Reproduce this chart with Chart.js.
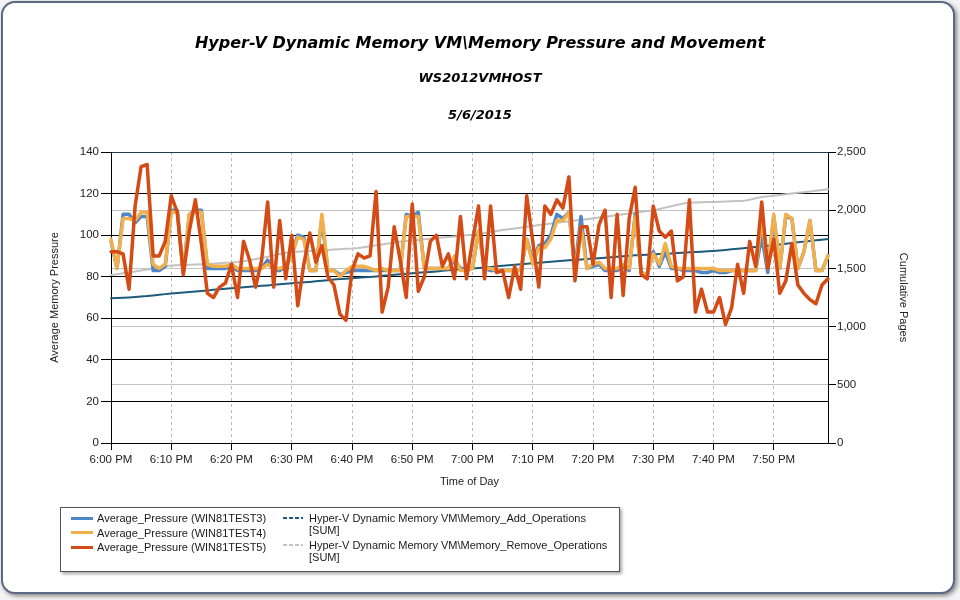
<!DOCTYPE html>
<html>
<head>
<meta charset="utf-8">
<title>Hyper-V Dynamic Memory VM - Memory Pressure and Movement</title>
<script src="https://cdn.jsdelivr.net/npm/chart.js@4.4.1/dist/chart.umd.min.js"></script>
<style>
  html, body { margin: 0; padding: 0; background: #f3f3f3; }
  #frame {
    position: absolute; left: 1px; top: 1px; width: 950px; height: 589px;
    border: 2px solid #5b6985; border-radius: 14px; background: #fff;
    box-shadow: 2px 2px 4px rgba(0, 0, 0, 0.45);
  }
  #chart { position: absolute; left: 0; top: 0; }
  #legend {
    position: absolute; left: 60px; top: 507px; width: 558px; height: 63px;
    border: 1px solid #555; background: #fff;
    box-shadow: 2px 2px 3px rgba(0, 0, 0, 0.35);
    font: 11px 'Liberation Sans', Arial, sans-serif; color: #1a1a1a;
  }
  .swatch { position: absolute; }
  .label { position: absolute; white-space: nowrap; }
</style>
</head>
<body>
<div id="frame"></div>
<canvas id="chart" width="960" height="600"></canvas>
<div id="legend"></div>
<script>
// one sample per minute, 6:00 PM .. 7:59 PM
const times = [];
for (let m = 0; m < 120; m++) {
    const h = 6 + Math.floor(m / 60);
    times.push(h + ':' + String(m % 60).padStart(2, '0') + ' PM');
}

const seriesNames = [
    'Average_Pressure (WIN81TEST3)',
    'Average_Pressure (WIN81TEST4)',
    'Average_Pressure (WIN81TEST5)',
    'Hyper-V Dynamic Memory VM\\Memory_Add_Operations [SUM]',
    'Hyper-V Dynamic Memory VM\\Memory_Remove_Operations [SUM]'
];

const pressureTest3 = [
    97, 84, 110, 110, 106, 109, 109, 83, 83, 85,
    112, 112, 82, 110, 112, 112, 84, 84, 84, 84,
    85, 83, 83, 83, 83, 84, 88, 83, 83, 85,
    91, 100, 99, 83, 83, 108, 83, 83, 81, 82,
    83, 83, 83, 83, 83, 83, 83, 83, 83, 110,
    109, 111, 84, 84, 84, 84, 84, 88, 84, 84,
    84, 102, 84, 83, 83, 83, 83, 83, 83, 98,
    88, 95, 96, 100, 110, 108, 111, 84, 109, 84,
    85, 86, 83, 83, 83, 85, 83, 110, 82, 81,
    92, 85, 92, 84, 84, 83, 83, 83, 82, 82,
    83, 82, 82, 83, 83, 83, 83, 83, 100, 82,
    109, 84, 109, 108, 84, 92, 107, 83, 83, 90
];

const pressureTest4 = [
    98, 84, 108, 108, 107, 111, 111, 86, 84, 86,
    111, 111, 82, 110, 111, 111, 86, 85, 85, 85,
    86, 84, 84, 84, 84, 84, 86, 84, 84, 85,
    90, 99, 98, 83, 83, 110, 83, 83, 80, 83,
    85, 85, 85, 84, 83, 84, 83, 83, 83, 109,
    109, 109, 84, 84, 84, 84, 84, 90, 83, 83,
    84, 102, 84, 84, 83, 83, 83, 83, 83, 98,
    86, 94, 94, 98, 107, 107, 111, 83, 104, 84,
    86, 87, 84, 84, 84, 86, 84, 109, 82, 81,
    91, 86, 96, 85, 84, 84, 84, 84, 84, 84,
    84, 83, 83, 83, 83, 83, 83, 83, 108, 84,
    110, 84, 110, 108, 84, 92, 107, 83, 83, 90
];

const pressureTest5 = [
    92, 92, 91, 74, 114, 133, 134, 90, 90, 97,
    119, 111, 81, 102, 117, 96, 72, 70, 75, 77,
    86, 70, 97, 88, 75, 88, 116, 75, 107, 79,
    100, 66, 86, 101, 87, 95, 80, 76, 62, 59,
    83, 91, 89, 90, 121, 63, 75, 104, 88, 70,
    115, 73, 80, 97, 100, 85, 91, 79, 109, 79,
    97, 114, 79, 114, 82, 83, 70, 85, 74, 119,
    97, 75, 114, 110, 117, 113, 128, 78, 104, 104,
    86, 105, 112, 70, 110, 71, 108, 123, 81, 79,
    114, 102, 99, 102, 78, 80, 117, 63, 74, 63,
    63, 70, 57, 65, 86, 72, 97, 85, 116, 84,
    98, 72, 78, 96, 76, 72, 69, 67, 76, 79
];

// cumulative pages (right axis)
const addOps = [
    1243, 1245, 1247, 1250, 1254, 1258, 1262, 1268, 1274, 1279,
    1285, 1289, 1293, 1297, 1301, 1305, 1310, 1316, 1321, 1325,
    1330, 1334, 1338, 1342, 1346, 1350, 1354, 1359, 1364, 1368,
    1372, 1376, 1380, 1384, 1389, 1394, 1399, 1404, 1408, 1411,
    1415, 1419, 1423, 1427, 1431, 1436, 1441, 1446, 1450, 1454,
    1458, 1462, 1466, 1470, 1474, 1479, 1484, 1489, 1493, 1497,
    1500, 1504, 1508, 1513, 1518, 1523, 1528, 1532, 1536, 1540,
    1545, 1549, 1553, 1557, 1561, 1565, 1569, 1573, 1577, 1581,
    1585, 1588, 1592, 1596, 1600, 1604, 1608, 1612, 1615, 1617,
    1620, 1623, 1626, 1629, 1632, 1635, 1638, 1641, 1644, 1647,
    1650, 1654, 1659, 1664, 1669, 1674, 1679, 1684, 1689, 1694,
    1700, 1706, 1712, 1718, 1724, 1730, 1736, 1741, 1747, 1752
];

const removeOps = [
    1443, 1450, 1458, 1466, 1474, 1482, 1490, 1500, 1510, 1518,
    1525, 1527, 1529, 1531, 1533, 1535, 1538, 1541, 1545, 1548,
    1550, 1555, 1562, 1570, 1580, 1590, 1600, 1612, 1624, 1634,
    1640, 1644, 1647, 1650, 1653, 1656, 1659, 1662, 1665, 1668,
    1670, 1675, 1682, 1690, 1698, 1706, 1714, 1722, 1730, 1736,
    1740, 1745, 1750, 1755, 1760, 1765, 1770, 1775, 1780, 1785,
    1790, 1797, 1805, 1813, 1822, 1830, 1836, 1842, 1850, 1858,
    1865, 1872, 1878, 1885, 1892, 1898, 1905, 1911, 1917, 1923,
    1930, 1937, 1944, 1951, 1958, 1965, 1972, 1980, 1987, 1993,
    2000, 2010, 2022, 2034, 2046, 2058, 2064, 2066, 2068, 2070,
    2070, 2072, 2074, 2076, 2078, 2080, 2090, 2102, 2114, 2120,
    2125, 2131, 2137, 2143, 2149, 2155, 2161, 2167, 2174, 2180
];

const colors = ['#4F86C6', '#F0B04C', '#D44B16', '#1D5A7C', '#C2C2C2'];
const tickFont = { family: "'Liberation Sans', Arial, sans-serif", size: 11.5 };
const axisTitleFont = { family: "'Liberation Sans', Arial, sans-serif", size: 11 };

function lineSet(i, data, width, axis, order) {
    return {
        label: seriesNames[i],
        data: data,
        borderColor: colors[i],
        backgroundColor: colors[i],
        borderWidth: width,
        pointRadius: 0,
        tension: 0,
        fill: false,
        borderJoinStyle: 'round',
        borderCapStyle: 'round',
        yAxisID: axis,
        order: order
    };
}

new Chart(document.getElementById('chart').getContext('2d'), {
    type: 'line',
    data: {
        labels: times,
        datasets: [
            lineSet(0, pressureTest3, 3.5, 'y', 2),
            lineSet(1, pressureTest4, 3.5, 'y', 1),
            lineSet(2, pressureTest5, 3.5, 'y', 0),
            lineSet(3, addOps, 2, 'y2', 3),
            lineSet(4, removeOps, 2, 'y2', 4)
        ]
    },
    options: {
        responsive: false,
        animation: false,
        layout: { padding: { left: 0, right: 0, top: 0, bottom: 100 } },
        plugins: {
            legend: { display: false },
            tooltip: { enabled: false },
            title: {
                display: true,
                text: 'Hyper-V Dynamic Memory VM\\Memory Pressure and Movement',
                color: '#000',
                font: { family: "'DejaVu Sans', Verdana, sans-serif", size: 16, weight: 'bold', style: 'italic' },
                padding: { top: 34.4, bottom: 6.9 }
            },
            subtitle: {
                display: true,
                text: ['WS2012VMHOST', '5/6/2015'],
                color: '#000',
                font: { family: "'DejaVu Sans', Verdana, sans-serif", size: 13, weight: 'bold', style: 'italic', lineHeight: 37 / 13 },
                padding: { top: 0, bottom: 17.5 }
            }
        },
        scales: {
            x: {
                type: 'category',
                grid: {
                    color: c => (c.index % 10 === 0 && c.index > 0) ? '#b8b8b8' : 'rgba(0,0,0,0)',
                    tickColor: c => c.index % 10 === 0 ? '#000' : 'rgba(0,0,0,0)',
                    tickLength: 7,
                    lineWidth: 1
                },
                border: { color: '#000', dash: [3, 3] },
                ticks: {
                    autoSkip: false, maxRotation: 0, minRotation: 0, padding: 3,
                    color: '#222', font: tickFont,
                    callback: function (v, i) { return i % 10 === 0 ? this.getLabelForValue(v) : ''; }
                },
                title: { display: true, text: 'Time of Day', color: '#222', font: axisTitleFont, padding: { top: 0, bottom: 11.4 } },
                afterFit: s => { s.height = 57; }
            },
            y: {
                position: 'left',
                min: 0, max: 140,
                ticks: { stepSize: 20, padding: 2, color: '#222', font: tickFont },
                grid: {
                    color: c => c.tick.value === 140 ? '#1f3b4e' : (c.tick.value === 0 ? 'rgba(0,0,0,0)' : '#000'),
                    tickColor: '#000',
                    tickLength: 10
                },
                border: { color: '#000' },
                title: { display: true, text: 'Average Memory Pressure', color: '#222', font: axisTitleFont, padding: { top: 48.4, bottom: 0 } },
                afterFit: s => { s.width = 111; }
            },
            y2: {
                position: 'right',
                min: 0, max: 2500,
                ticks: { stepSize: 500, padding: 1, color: '#222', font: tickFont, callback: v => v.toLocaleString('en-US') },
                grid: {
                    color: c => (c.tick.value === 0 || c.tick.value === 2500) ? 'rgba(0,0,0,0)' : '#c3c3c3',
                    tickColor: '#000',
                    tickLength: 8
                },
                border: { color: '#000' },
                title: { display: true, text: 'Cumulative Pages', color: '#222', font: axisTitleFont, padding: { top: 50.4, bottom: 0 } },
                afterFit: s => { s.width = 132; }
            }
        }
    }
});

// legend box, two columns like the original report
const legend = document.getElementById('legend');
function addItem(i, left, top, dashed) {
    const sw = document.createElement('div');
    sw.className = 'swatch';
    sw.style.left = left + 'px';
    sw.style.top = (top - 1.5) + 'px';
    sw.style.width = (dashed ? 20 : 22) + 'px';
    sw.style.height = (dashed ? 2 : 3) + 'px';
    sw.style.background = dashed
        ? 'repeating-linear-gradient(to right, ' + colors[i] + ' 0 4px, transparent 4px 6px)'
        : colors[i];
    legend.appendChild(sw);

    const lb = document.createElement('div');
    lb.className = 'label';
    lb.style.left = (left + (dashed ? 26 : 26)) + 'px';
    lb.style.top = (top - 7) + 'px';
    lb.style.lineHeight = dashed ? '12.5px' : '14px';
    const parts = seriesNames[i].split(' [');
    lb.appendChild(document.createTextNode(parts[0]));
    if (parts.length > 1) {
        lb.appendChild(document.createElement('br'));
        lb.appendChild(document.createTextNode('[' + parts[1]));
    }
    legend.appendChild(lb);
}
addItem(0, 10, 10, false);
addItem(1, 10, 24.5, false);
addItem(2, 10, 39, false);
addItem(3, 222, 10.5, true);
addItem(4, 222, 37.5, true);
</script>
</body>
</html>
